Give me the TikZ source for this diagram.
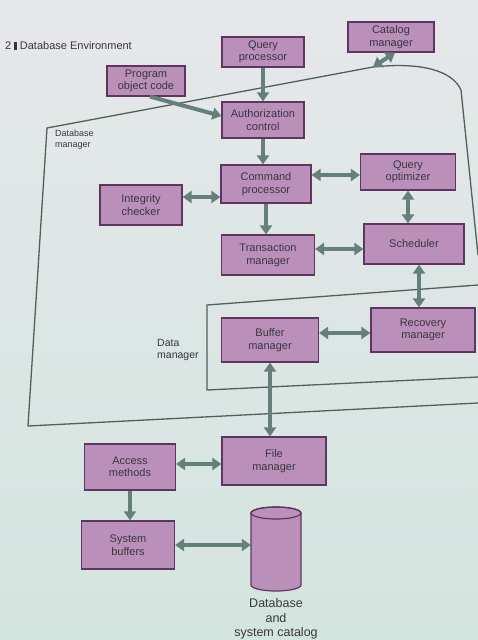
\documentclass[tikz,border=0pt]{standalone}
\usepackage{fontspec}
\setmainfont{Liberation Sans}
\usetikzlibrary{arrows.meta}

\definecolor{paper}{HTML}{E6E7EA}
\definecolor{papertint}{HTML}{D3E5DF}
\definecolor{boxfill}{HTML}{BA90BA}
\definecolor{boxline}{HTML}{5E3560}
\definecolor{arrowgray}{HTML}{65807A}
\definecolor{regionline}{HTML}{50605A}
\definecolor{ink}{HTML}{38363E}

\begin{document}
\begin{tikzpicture}[x=1pt, y=-1pt,
    box/.style={draw=boxline, fill=boxfill, line width=1.2pt, align=center, text=ink,
      font=\fontsize{11}{12.5}\selectfont, inner sep=2pt},
    link/.style={arrowgray, line width=4pt, -{Triangle[width=12pt,length=9pt]}},
    twoway/.style={link, {Triangle[width=12pt,length=9pt]}-{Triangle[width=12pt,length=9pt]}},
    region/.style={regionline, line width=1.3pt},
    tag/.style={text=ink, align=left, anchor=north west, inner sep=0pt}]

  % page
  \useasboundingbox (0,0) rectangle (478,640);
  \clip (0,0) rectangle (478,640);
  \shade[top color=paper, bottom color=papertint] (0,0) rectangle (478,640);

  \node[tag, anchor=west, font=\fontsize{11}{13}\selectfont] (header) at (5,46)
    {2 \rule[-0.5pt]{2.5pt}{8.5pt} Database Environment};

  % outside the database manager
  \node[box, minimum width=78pt, minimum height=30pt] (poc) at (146,81) {Program\\object code};
  \node[box, minimum width=82pt, minimum height=30pt] (qp) at (263,52) {Query\\processor};
  \node[box, minimum width=86pt, minimum height=30pt] (cat) at (391,37) {Catalog\\manager};

  % database manager
  \coordinate (catline) at (373,67);
  \draw[region] (478,255) -- (461,90) .. controls (452,70) and (420,62) .. (catline)
    -- (47,128) -- (28,426) -- (478,403);
  \node[tag, font=\fontsize{9}{11}\selectfont] (dbmlabel) at (55,130) {Database\\manager};

  \node[box, minimum width=82pt, minimum height=36pt] (auth) at (263,120) {Authorization\\control};
  \node[box, minimum width=90pt, minimum height=38pt] (cmd) at (266,184) {Command\\processor};
  \node[box, minimum width=82pt, minimum height=40pt] (integ) at (141,205) {Integrity\\checker};
  \node[box, minimum width=95pt, minimum height=36pt] (qopt) at (408,172) {Query\\optimizer};
  \node[box, minimum width=93pt, minimum height=40pt] (trans) at (268,255) {Transaction\\manager};
  \node[box, minimum width=100pt, minimum height=40pt] (sched) at (414,244) {Scheduler};

  % data manager
  \draw[region] (478,285) -- (207,305) -- (207,390) -- (478,377);
  \node[tag, font=\fontsize{10.5}{12}\selectfont] (dmlabel) at (157,339) {Data\\manager};

  \node[box, minimum width=97pt, minimum height=44pt] (buf) at (270,340) {Buffer\\manager};
  \node[box, minimum width=104pt, minimum height=44pt] (recov) at (423,330) {Recovery\\manager};

  % storage side
  \node[box, minimum width=104pt, minimum height=48pt] (file) at (274,461) {File\\manager};
  \node[box, minimum width=91pt, minimum height=46pt] (access) at (130,467) {Access\\methods};
  \node[box, minimum width=93pt, minimum height=48pt] (sysbuf) at (128,545) {System\\buffers};

  % disk
  \node[minimum width=50pt, minimum height=84pt, inner sep=0pt] (db) at (276,549) {};
  \draw[boxline, fill=boxfill, line width=1.2pt] (251,513) -- (251,585)
    arc[start angle=180, end angle=0, x radius=25, y radius=6] -- (301,513)
    arc[start angle=0, end angle=-180, x radius=25, y radius=6] -- cycle;
  \draw[boxline, line width=1.2pt] (276,513) ellipse[x radius=25, y radius=6];
  \node[text=ink, align=center, anchor=north, font=\fontsize{12.5}{14.5}\selectfont]
    (dblabel) at ([yshift=-4pt]db.south) {Database\\and\\system catalog};

  % arrows
  \draw[link] (qp.south) -- (qp.south |- auth.north);
  \draw[link] ([xshift=4pt]poc.south) -- ([yshift=4pt]auth.west);
  \draw[twoway] ([xshift=4pt]cat.south) -- (catline);
  \draw[link] (auth.south) -- (auth.south |- cmd.north);
  \draw[twoway] ([yshift=8pt]integ.east) -- ([yshift=8pt]integ.east -| cmd.west);
  \draw[twoway] ([yshift=-3pt]qopt.west -| cmd.east) -- ([yshift=-3pt]qopt.west);
  \draw[link] (cmd.south) -- (cmd.south |- trans.north);
  \draw[twoway] (qopt.south) -- (qopt.south |- sched.north);
  \draw[twoway] ([yshift=6pt]trans.east) -- ([yshift=6pt]trans.east -| sched.west);
  \draw[twoway] ([xshift=5pt]sched.south) -- ([xshift=5pt]sched.south |- recov.north);
  \draw[twoway] ([yshift=7pt]buf.east) -- ([yshift=7pt]buf.east -| recov.west);
  \draw[twoway] (buf.south) -- (buf.south |- file.north);
  \draw[twoway] ([yshift=3pt]access.east) -- ([yshift=3pt]access.east -| file.west);
  \draw[link] (access.south) -- (access.south |- sysbuf.north);
  \draw[twoway] (sysbuf.east) -- (sysbuf.east -| db.west);
\end{tikzpicture}
\end{document}
